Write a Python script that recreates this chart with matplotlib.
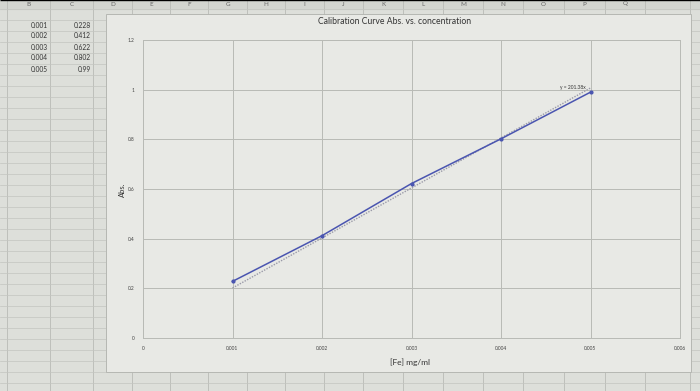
import matplotlib
matplotlib.use("Agg")
import matplotlib.pyplot as plt
from matplotlib.patches import Rectangle

plt.rcParams['font.family'] = ['Lato', 'DejaVu Sans']

# Data
conc = [0.001, 0.002, 0.003, 0.004, 0.005]
absorb = [0.228, 0.412, 0.622, 0.802, 0.99]
slope = 201.38
conc_labels = ["0.001", "0.002", "0.003", "0.004", "0.005"]
abs_labels = ["0.228", "0.412", "0.622", "0.802", "0.99"]
col_letters = ["B", "C", "D", "E", "F", "G", "H", "I", "J", "K", "L", "M", "N", "O", "P", "Q"]
xticks = [0, 0.001, 0.002, 0.003, 0.004, 0.005, 0.006]
xtick_labels = ["0", "0.001", "0.002", "0.003", "0.004", "0.005", "0.006"]
yticks = [0, 0.2, 0.4, 0.6, 0.8, 1.0, 1.2]
ytick_labels = ["0", "0.2", "0.4", "0.6", "0.8", "1", "1.2"]

W, H = 700, 391
fig = plt.figure(figsize=(7, 3.91), dpi=100)
fig.patch.set_facecolor('#dcdedA')

# Spreadsheet background in pixel coords
bg = fig.add_axes([0, 0, 1, 1])
bg.set_xlim(0, W)
bg.set_ylim(H, 0)
bg.axis('off')
bg.add_patch(Rectangle((0, 0), W, H, color='#dddfda', zorder=0))
# header row
bg.add_patch(Rectangle((0, 0), W, 9, color='#d3d5d0', zorder=0.5))
col_edges = [7, 50, 93, 132, 170, 208, 247, 285, 324, 363, 403, 443, 483, 523, 564, 605, 645, 690]
for xe in col_edges:
    bg.plot([xe, xe], [0, H], color='#b9bbb6', lw=0.6, zorder=1)
for y in range(9, H, 11):
    bg.plot([0, W], [y, y], color='#c3c5c0', lw=0.5, zorder=1)
for i, letter in enumerate(col_letters):
    if i + 1 < len(col_edges):
        xc = (col_edges[i] + col_edges[i + 1]) / 2
        bg.text(xc, 4, letter, fontsize=4.5, color='#666666', ha='center', va='center', zorder=2)
# data cells
for i, (a, b) in enumerate(zip(conc_labels, abs_labels)):
    yy = 25 + i * 11
    bg.text(48, yy, a, fontsize=4.8, ha='right', va='center', color='#333333', zorder=2)
    bg.text(91, yy, b, fontsize=4.8, ha='right', va='center', color='#333333', zorder=2)
bg.add_patch(Rectangle((0, 0), 700, 0, color='k'))
# chart area
bg.add_patch(Rectangle((106, 14), 585, 358, facecolor='#e8e9e5', edgecolor='#b5b7b2', lw=0.7, zorder=3))
bg.text(395, 22, "Calibration Curve Abs. vs. concentration", fontsize=6.2, ha='center', va='center',
        color='#333333', zorder=4)
bg.text(410, 362, "[Fe] mg/ml", fontsize=6, ha='center', va='center', color='#333333', zorder=4)
bg.text(122, 190, "Abs.", fontsize=5.5, ha='center', va='center', rotation=90, color='#333333', zorder=4)

# Plot axes
ax = fig.add_axes([143 / W, 1 - 338 / H, (680 - 143) / W, (338 - 40) / H])
ax.set_facecolor('#e8e9e5')
ax.set_xlim(0, 0.006)
ax.set_ylim(0, 1.2)
ax.set_xticks(xticks)
ax.set_xticklabels(xtick_labels)
ax.set_yticks(yticks)
ax.set_yticklabels(ytick_labels)
ax.tick_params(length=0, labelsize=3.5, colors='#444444', pad=6)
ax.grid(True, color='#b8bab5', lw=0.7)
ax.set_axisbelow(True)
for s in ax.spines.values():
    s.set_color('#b8bab5')
    s.set_linewidth(0.7)

trend_x = [conc[0], conc[-1]]
trend_y = [slope * x for x in trend_x]
ax.plot(trend_x, trend_y, color='#9a9aa8', lw=1.0, ls=(0, (1, 1)), zorder=3)
ax.plot(conc, absorb, color='#4a55b0', lw=1.1, marker='o', markersize=2, zorder=4)
ax.text(0.00494, 1.0, "y = 201.38x", fontsize=3.5, ha='right', va='bottom', color='#333333')

fig.savefig("out.png", dpi=100)
